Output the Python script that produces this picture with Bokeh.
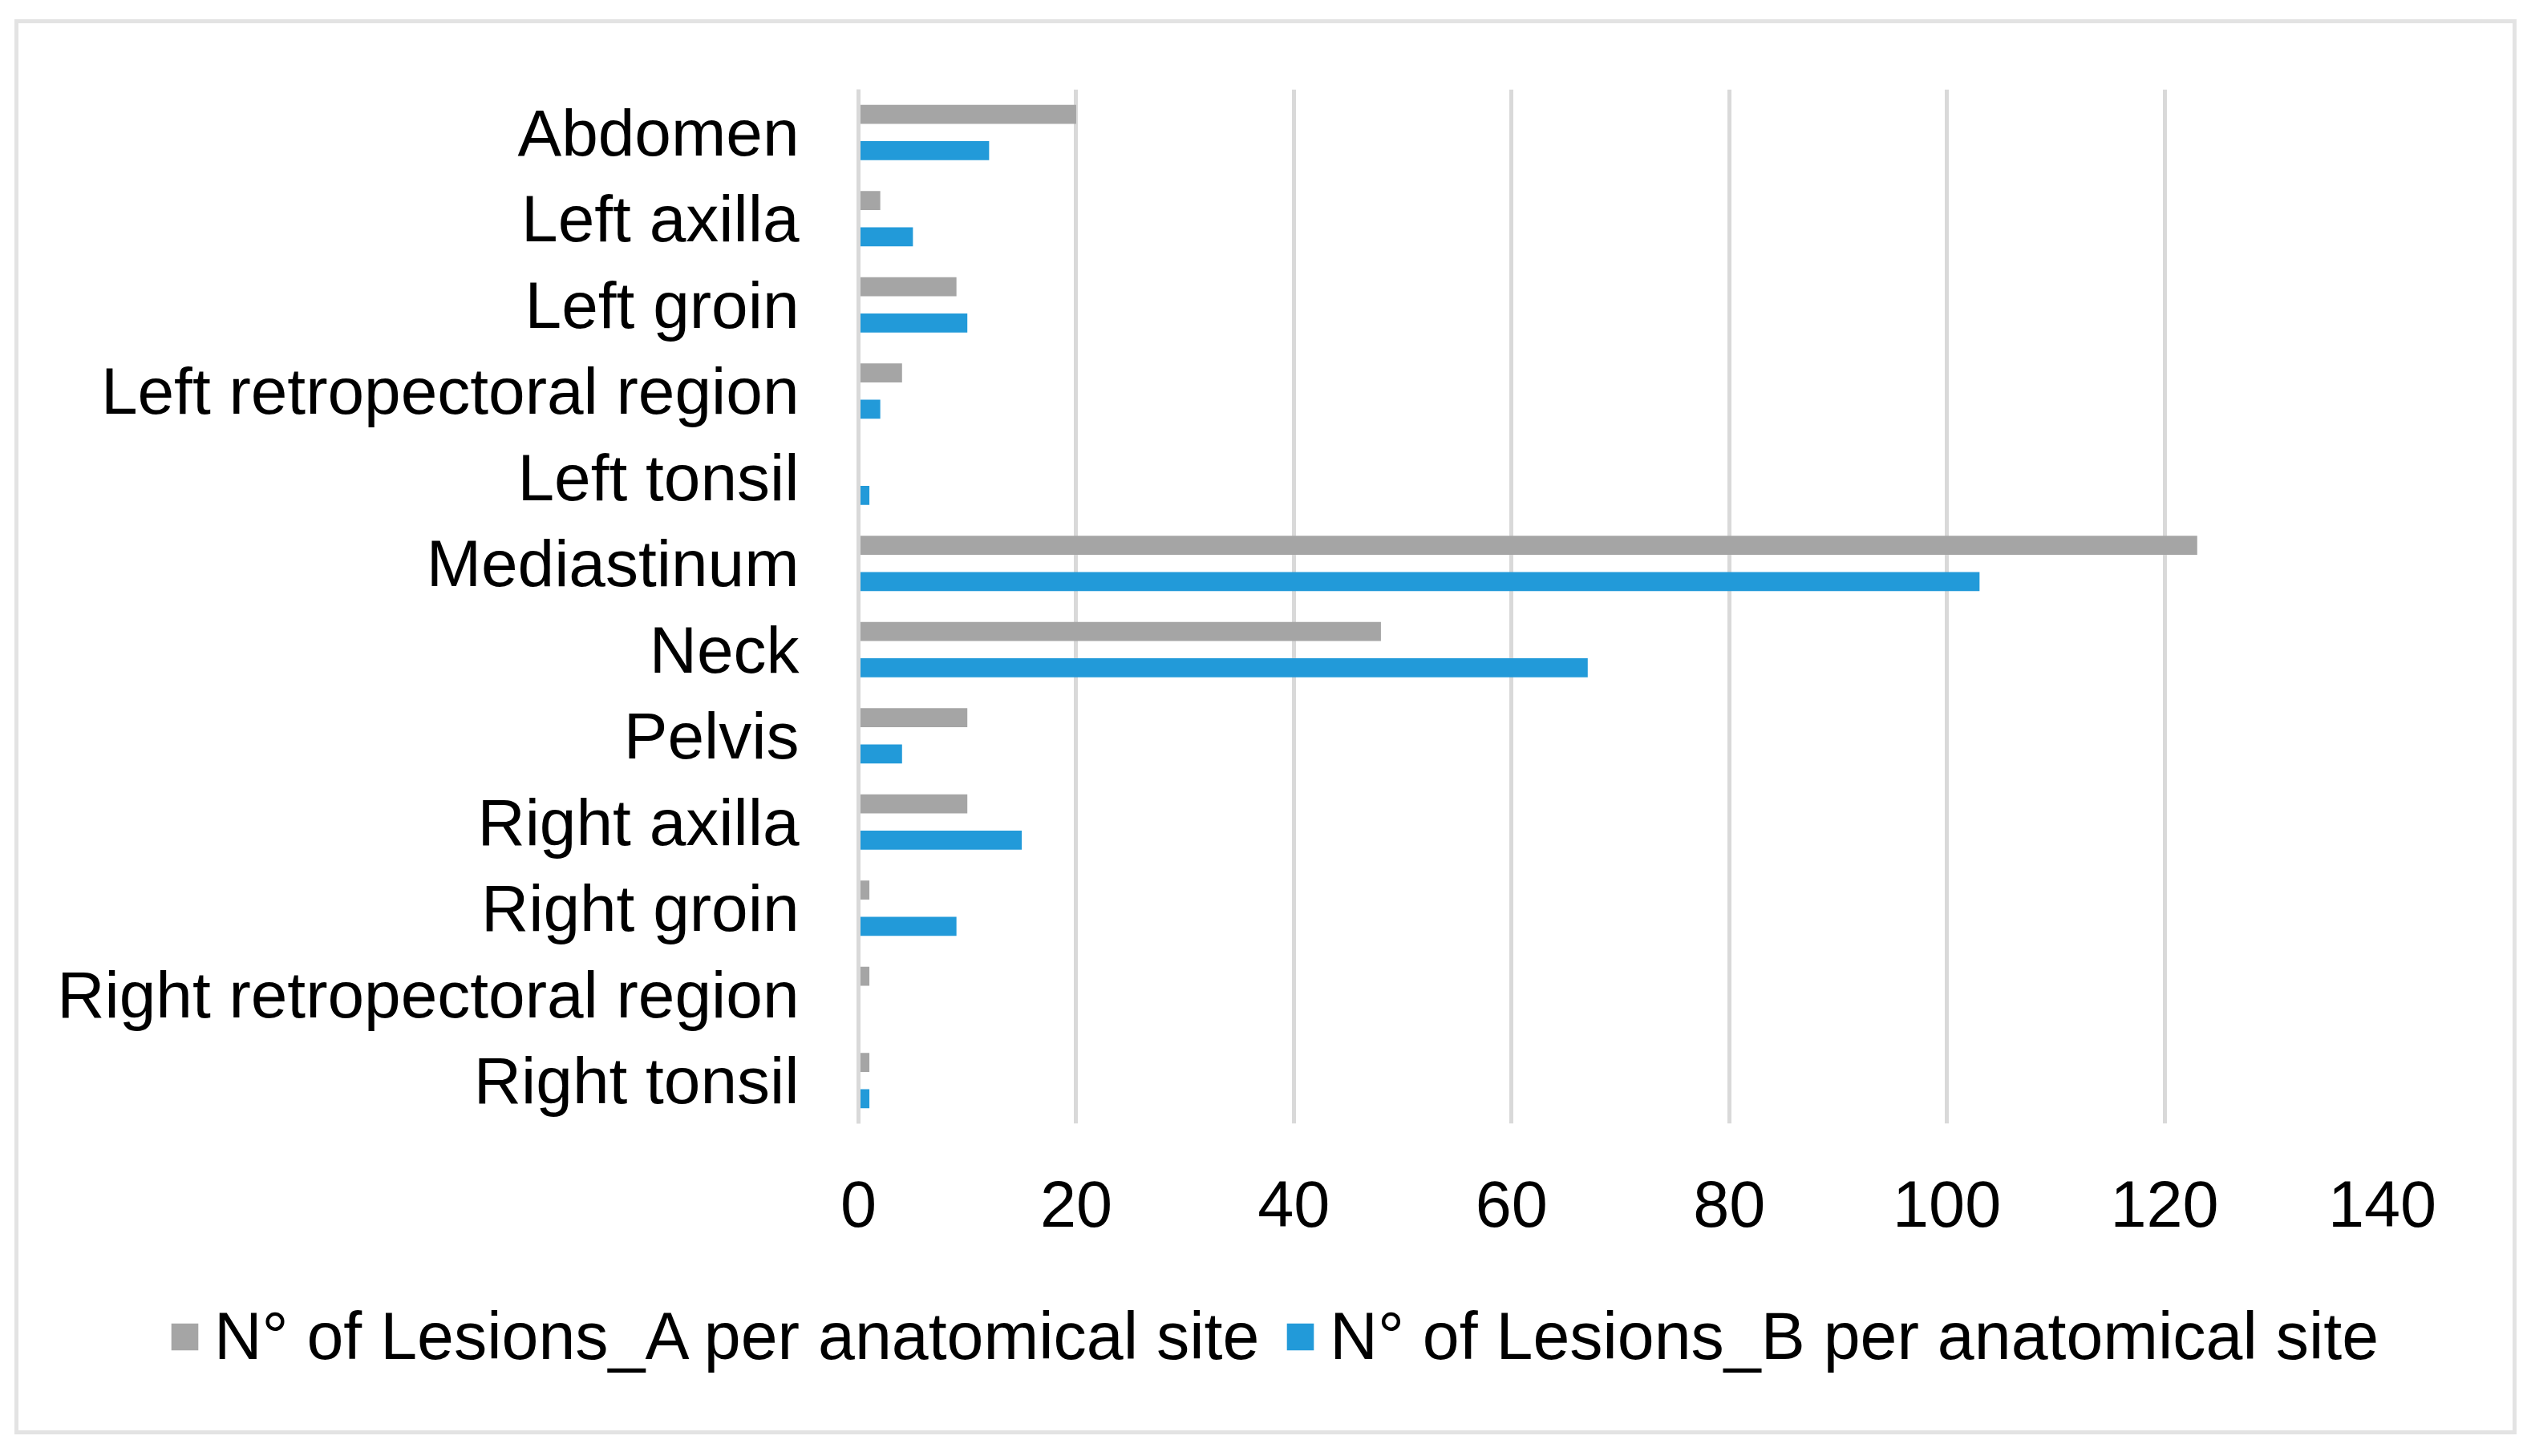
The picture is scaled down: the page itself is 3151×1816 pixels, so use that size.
from bokeh.plotting import figure
from bokeh.layouts import column
from bokeh.models import FactorRange, Range1d, FixedTicker, Legend, LegendItem, ColumnDataSource
from bokeh.transform import dodge
from bokeh.embed import file_html
from bokeh.resources import INLINE

categories = ["Abdomen", "Left axilla", "Left groin", "Left retropectoral region", "Left tonsil",
              "Mediastinum", "Neck", "Pelvis", "Right axilla", "Right groin",
              "Right retropectoral region", "Right tonsil"]
lesions_a = [20, 2, 9, 4, 0, 123, 48, 10, 10, 1, 1, 1]
lesions_b = [12, 5, 10, 2, 1, 103, 67, 4, 15, 9, 0, 1]
x_ticks = [0, 20, 40, 60, 80, 100, 120, 140]
series_names = ["N° of Lesions_A per anatomical site", "N° of Lesions_B per anatomical site"]

FONT = "Liberation Sans"
GRID = "#d9d9d9"
GRAY = "#a5a5a5"
BLUE = "#229ad9"

src = ColumnDataSource(dict(cat=categories, a=lesions_a, b=lesions_b))

p = figure(width=3110, height=1549, output_backend="svg", toolbar_location=None,
           y_range=FactorRange(factors=categories[::-1]), x_range=Range1d(0, 140),
           min_border_left=1047, min_border_top=82, min_border_right=163, min_border_bottom=177)
p.frame_align = False
p.outline_line_color = None
p.background_fill_color = "white"
p.border_fill_color = "white"

ra = p.hbar(y=dodge("cat", 0.21, range=p.y_range), right="a", left=0, height=0.22,
            source=src, fill_color=GRAY, line_color=None)
rb = p.hbar(y=dodge("cat", -0.21, range=p.y_range), right="b", left=0, height=0.22,
            source=src, fill_color=BLUE, line_color=None)

p.xaxis.ticker = FixedTicker(ticks=x_ticks)
p.xaxis.axis_line_color = None
p.xaxis.major_tick_line_color = None
p.xaxis.minor_tick_line_color = None
p.xaxis.major_label_text_font = FONT
p.xaxis.major_label_text_font_size = "81px"
p.xaxis.major_label_text_color = "black"
p.xaxis.major_label_standoff = 65

p.yaxis.axis_line_color = GRID
p.yaxis.axis_line_width = 5
p.yaxis.major_tick_line_color = None
p.yaxis.minor_tick_line_color = None
p.yaxis.major_label_text_font = FONT
p.yaxis.major_label_text_font_size = "82px"
p.yaxis.major_label_text_color = "black"
p.yaxis.major_label_standoff = 68

p.xgrid.grid_line_color = GRID
p.xgrid.grid_line_width = 5
p.ygrid.grid_line_color = None

# legend strip below the chart
lf = figure(width=3110, height=206, output_backend="svg", toolbar_location=None,
            x_range=Range1d(0, 1), y_range=Range1d(0, 1), x_axis_type=None, y_axis_type=None,
            min_border=0)
lf.frame_align = False
lf.outline_line_color = None
lf.xgrid.grid_line_color = None
lf.ygrid.grid_line_color = None
la = lf.hbar(y=[5], right=[0], left=0, height=0.1, fill_color=GRAY, line_color=None)
lb = lf.hbar(y=[5], right=[0], left=0, height=0.1, fill_color=BLUE, line_color=None)

legend = Legend(items=[LegendItem(label=series_names[0], renderers=[la]),
                       LegendItem(label=series_names[1], renderers=[lb])],
                orientation="horizontal", location=(186, 70))
legend.label_text_font = FONT
legend.label_text_font_size = "82.5px"
legend.label_text_color = "black"
legend.glyph_width = 42
legend.glyph_height = 42
legend.label_standoff = 16
legend.spacing = 30
legend.padding = 0
legend.margin = 0
legend.border_line_color = None
legend.background_fill_alpha = 0
lf.add_layout(legend, "center")

layout = column(p, lf, spacing=0, margin=(24, 0, 0, 18),
                styles={"border": "5px solid #e3e3e3"})

open("out.html", "w").write(file_html(layout, INLINE))
